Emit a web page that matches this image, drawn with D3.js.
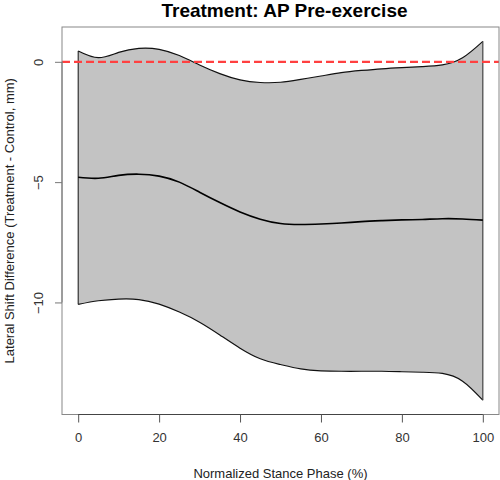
<!DOCTYPE html>
<html><head><meta charset="utf-8">
<script src="https://cdn.jsdelivr.net/npm/d3@7"></script>
<style>body{margin:0;background:#fff}svg{display:block;font-family:"Liberation Sans",Arial,sans-serif}</style>
</head><body><svg id="c" width="500" height="480"></svg>
<script>
const phase = [0,5,10,15,20,25,30,35,40,45,50,55,60,65,70,75,80,85,90,95,100];
const upper = [0.45,0.17,0.39,0.56,0.52,0.26,-0.13,-0.49,-0.75,-0.86,-0.85,-0.73,-0.59,-0.45,-0.36,-0.29,-0.24,-0.20,-0.13,0.17,0.85];
const meanDiff = [-4.80,-4.84,-4.72,-4.67,-4.75,-5.00,-5.42,-5.85,-6.24,-6.54,-6.72,-6.76,-6.74,-6.70,-6.64,-6.60,-6.57,-6.55,-6.52,-6.53,-6.58];
const lower = [-10.08,-9.93,-9.86,-9.88,-10.07,-10.40,-10.82,-11.35,-11.90,-12.34,-12.58,-12.76,-12.84,-12.86,-12.86,-12.86,-12.88,-12.90,-12.95,-13.27,-14.06];
const xTicks = [0,20,40,60,80,100];
const yTicks = [0,-5,-10];
const refLine = 0;

const svg = d3.select("#c");
const L=62,R=499,T=27,B=414.5;
const pad = (a,b)=>{const d=(b-a)*0.04;return [a-d,b+d];};
const x = d3.scaleLinear().domain(pad(0,100)).range([L,R]);
const yMin=d3.min(lower), yMax=d3.max(upper);
const y = d3.scaleLinear().domain(pad(yMin,yMax)).range([B,T]);
const curve = d3.curveNatural;

const band = d3.area().x((d,i)=>x(phase[i])).y0((d,i)=>y(lower[i])).y1((d,i)=>y(upper[i])).curve(curve);
svg.append("path").attr("d",band(phase)).attr("fill","#c3c3c3").attr("stroke","none");
const line = arr => d3.line().x((d,i)=>x(phase[i])).y((d,i)=>y(arr[i])).curve(curve)(phase);
svg.append("path").attr("d",line(upper)).attr("fill","none").attr("stroke","#111").attr("stroke-width",1.2);
svg.append("path").attr("d",line(lower)).attr("fill","none").attr("stroke","#111").attr("stroke-width",1.2);
svg.append("line").attr("x1",x(0)).attr("x2",x(0)).attr("y1",y(upper[0])).attr("y2",y(lower[0])).attr("stroke","#111").attr("stroke-width",1);
svg.append("line").attr("x1",x(100)).attr("x2",x(100)).attr("y1",y(upper[upper.length-1])).attr("y2",y(lower[lower.length-1])).attr("stroke","#444").attr("stroke-width",1.2);
svg.append("path").attr("d",line(meanDiff)).attr("fill","none").attr("stroke","#000").attr("stroke-width",1.6);

svg.append("line").attr("x1",L).attr("x2",R).attr("y1",y(refLine)).attr("y2",y(refLine))
  .attr("stroke","#ff4040").attr("stroke-width",2.3).attr("stroke-dasharray","8,4");

svg.append("rect").attr("x",L).attr("y",T).attr("width",R-L).attr("height",B-T)
  .attr("fill","none").attr("stroke","#888").attr("stroke-width",1);

const xa = svg.append("g").attr("transform",`translate(0,${B})`)
  .call(d3.axisBottom(x).tickValues(xTicks).tickSize(8).tickPadding(10).tickSizeOuter(0));
xa.select(".domain").attr("d",`M${x(0)},0H${x(100)}`).attr("stroke","#444");
xa.selectAll(".tick line").attr("stroke","#555");
xa.selectAll("text").attr("font-size",13).attr("fill","#333").attr("font-family","Liberation Sans, Arial, sans-serif");

const ya = svg.append("g").attr("transform",`translate(${L},0)`)
  .call(d3.axisLeft(y).tickValues(yTicks).tickSize(7).tickSizeOuter(0));
ya.select(".domain").attr("d",`M0,${y(-10)}V${y(0)}`).attr("stroke","#777");
ya.selectAll(".tick line").attr("stroke","#777");
ya.selectAll(".tick text").attr("font-size",13).attr("fill","#333").attr("font-family","Liberation Sans, Arial, sans-serif")
  .attr("x",null).attr("y",null)
  .attr("transform","translate(-24,0) rotate(-90)").attr("dy","0.35em").attr("text-anchor","middle");

svg.append("text").attr("x",(L+R)/2+4).attr("y",17).attr("text-anchor","middle")
  .attr("font-size",19).attr("font-weight","bold").attr("fill","#000").text("Treatment: AP Pre-exercise");
svg.append("text").attr("x",(L+R)/2).attr("y",478).attr("text-anchor","middle")
  .attr("font-size",13).attr("fill","#222").text("Normalized Stance Phase (%)");
svg.append("text").attr("transform",`translate(14,${(T+B)/2}) rotate(-90)`).attr("text-anchor","middle")
  .attr("font-size",13).attr("fill","#222").text("Lateral Shift Difference (Treatment - Control, mm)");
</script></body></html>
